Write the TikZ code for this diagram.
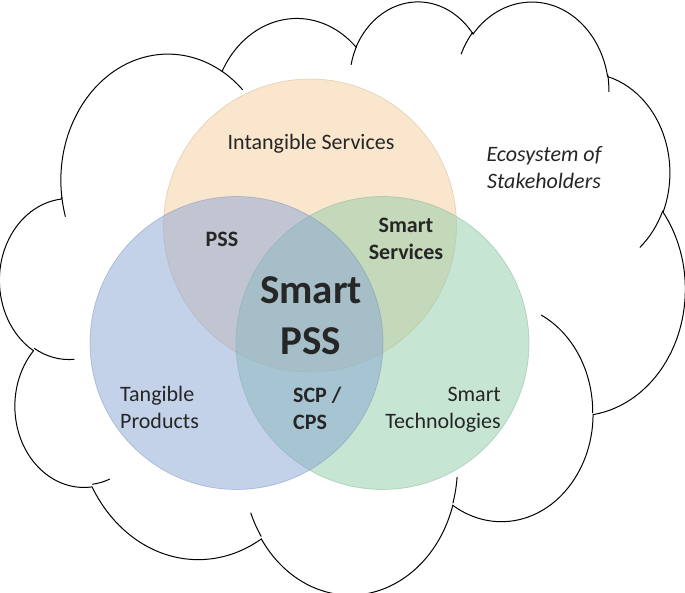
\documentclass[tikz,border=0pt]{standalone}
\usepackage{fontspec}
\setmainfont{Carlito}
\definecolor{orangebase}{HTML}{F5CF9D}
\definecolor{bluebase}{HTML}{89A5D5}
\definecolor{greenbase}{HTML}{8FCDA7}
\definecolor{txt}{HTML}{262626}
% one elliptic arc of the cloud outline: wR, hR (path units /1000), start angle, sweep (degrees, y down)
\newcommand\cldarc[4]{%
  \pgfmathsetmacro\cldta{atan2(#1*sin(-(#3)), #2*cos(-(#3)))}%
  \pgfmathsetmacro\cldtb{atan2(#1*sin(-(#3)-(#4)), #2*cos(-(#3)-(#4)))}%
  \pgfmathsetmacro\cldtb{\cldtb>\cldta ? \cldtb-360 : \cldtb}%
  \pgfmathsetmacro\cldrx{#1*15.85648}%
  \pgfmathsetmacro\cldry{#2*13.72685}%
  \pgfpatharc{\cldta}{\cldtb}{\cldrx pt and \cldry pt}%
}
\newcommand\cldmove[2]{\pgfpathmoveto{\pgfpoint{#1*15.85648pt}{593pt-#2*13.72685pt}}}
\newcommand\twol[3]{\begin{tabular}[t]{@{}#1@{}}#2\\#3\end{tabular}}
\begin{document}
\begin{tikzpicture}[x=1pt,y=1pt,
  venn/.style={fill=#1, draw=#1!85!black, fill opacity=0.5, draw opacity=0.45, line width=0.7pt},
  lblreg/.style={text=txt, inner sep=0pt, font=\fontsize{22}{26.5}\selectfont},
  lblit/.style={text=txt, inner sep=0pt, font=\fontsize{22}{26.5}\selectfont\itshape},
  lblbf/.style={text=txt, inner sep=0pt, font=\fontsize{22}{26.5}\selectfont\bfseries},
  lblbig/.style={text=txt, inner sep=0pt, font=\fontsize{41}{51}\selectfont\bfseries}]
\useasboundingbox (0,0) rectangle (685,593);
\fill[white] (0,0) rectangle (685,593);
% cloud outline
\begin{scope}[line width=1pt]
\cldmove{3.900}{14.370}
\cldarc{6.753}{9.190}{-190.4875}{123.7805}
\cldarc{5.333}{7.267}{-144.1024}{89.9452}
\cldarc{4.365}{5.945}{-145.8079}{99.7230}
\cldarc{4.857}{6.595}{-130.9861}{117.2417}
\cldarc{5.333}{7.273}{-78.7089}{109.0269}
\cldarc{6.775}{9.220}{-46.2673}{130.2690}
\cldarc{5.785}{7.867}{0.6250}{114.0333}
\cldarc{6.752}{9.215}{22.4516}{115.1726}
\cldarc{7.720}{10.543}{66.2426}{75.7110}
\cldarc{4.360}{5.918}{-274.9421}{146.7356}
\cldarc{4.345}{5.945}{-246.8285}{152.5189}
\pgfpathclose
\pgfusepath{stroke}
\cldmove{4.693}{26.177}\cldarc{4.345}{5.945}{86.7420}{26.4295}
\cldmove{6.928}{34.899}\cldarc{4.360}{5.918}{73.6105}{11.4475}
\cldmove{16.478}{39.090}\cldarc{6.752}{9.215}{137.6242}{14.0811}
\cldmove{28.827}{34.751}\cldarc{6.752}{9.215}{6.4533}{15.9984}
\cldmove{34.129}{22.954}\cldarc{5.785}{7.867}{-70.2924}{70.9174}
\cldmove{41.798}{15.354}\cldarc{5.333}{7.273}{30.3180}{27.7515}
\cldmove{38.324}{5.426}\cldarc{4.857}{6.595}{-13.7443}{14.8589}
\cldmove{29.078}{3.952}\cldarc{4.857}{6.595}{-149.1815}{18.1954}
\cldmove{22.141}{4.720}\cldarc{4.365}{5.945}{-163.4943}{17.6942}
\cldmove{14.000}{5.192}\cldarc{6.753}{9.190}{-66.7070}{12.3194}
\cldmove{4.127}{15.789}\cldarc{6.753}{9.190}{157.6544}{11.8582}
\pgfusepath{stroke}
\end{scope}
% Venn circles
\coordinate (cI) at (310,367.5);
\coordinate (cT) at (236.5,250);
\coordinate (cS) at (382.5,250);
\path[venn=orangebase] (cI) circle (146.5);
\path[venn=greenbase] (cS) circle (146.5);
\path[venn=bluebase] (cT) circle (146.5);
% labels
\node[lblreg, anchor=base] (intang) at (311,443) {Intangible Services};
\node[lblit, anchor=base] (eco) at (544,431) {\twol{c}{Ecosystem of}{Stakeholders}};
\node[lblbf, anchor=base] (pss) at (222,346) {PSS};
\node[lblbf, anchor=base] (smserv) at (406,360) {\twol{c}{Smart}{Services}};
\node[lblbig, anchor=base] (smpss) at (311,289) {\twol{c}{Smart}{PSS}};
\node[lblreg, anchor=base west] (tang) at (120,191) {\twol{l}{Tangible}{Products}};
\node[lblreg, anchor=base east] (smtech) at (501,191) {\twol{r}{Smart}{Technologies}};
\node[lblbf, anchor=base west] (scp) at (293,190) {\twol{l}{SCP /}{CPS}};
\end{tikzpicture}
\end{document}
